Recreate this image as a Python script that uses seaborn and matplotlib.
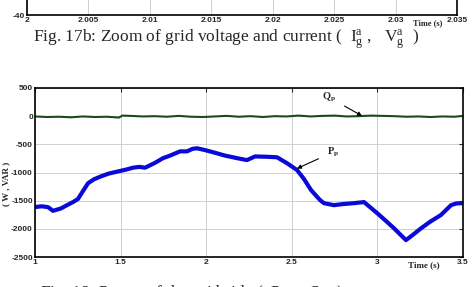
import matplotlib
matplotlib.use("Agg")
import matplotlib.pyplot as plt
import seaborn as sns
import pandas as pd

# ---- data ----
t_p = [1.0, 1.04, 1.076, 1.105, 1.15, 1.187, 1.222, 1.251, 1.28, 1.31, 1.345, 1.38,
       1.43, 1.479, 1.53, 1.572, 1.61, 1.643, 1.70, 1.748, 1.789, 1.847, 1.888, 1.92,
       1.946, 1.99, 2.04, 2.11, 2.18, 2.238, 2.285, 2.35, 2.414, 2.472, 2.53, 2.57,
       2.612, 2.665, 2.688, 2.746, 2.80, 2.86, 2.922, 2.998, 3.05, 3.097, 3.14, 3.167,
       3.21, 3.255, 3.31, 3.371, 3.43, 3.46, 3.494]
p_vals = [-1613, -1600, -1615, -1680, -1640, -1580, -1525, -1470, -1330, -1190, -1120, -1075,
          -1020, -985, -950, -915, -900, -915, -830, -745, -700, -625, -625, -580,
          -570, -600, -640, -700, -745, -780, -715, -720, -730, -835, -955, -1110,
          -1310, -1490, -1545, -1580, -1560, -1545, -1525, -1720, -1860, -1990, -2120, -2200,
          -2100, -1990, -1870, -1755, -1580, -1550, -1545]

t_q = [1.0, 1.07, 1.14, 1.21, 1.28, 1.35, 1.42, 1.49, 1.51, 1.56, 1.63, 1.70, 1.77, 1.84,
       1.91, 1.98, 2.05, 2.12, 2.19, 2.26, 2.33, 2.40, 2.47, 2.54, 2.61, 2.68, 2.75, 2.82,
       2.89, 2.96, 3.03, 3.10, 3.17, 3.24, 3.31, 3.38, 3.45, 3.5]
q_vals = [-5, -15, -10, -20, -5, -15, -10, -25, 10, 5, -5, 0, -10, 5, -10, -15, -5, 5,
          -10, 0, -15, 0, -5, 10, -5, 5, 10, -5, 0, 10, 5, 0, -10, -5, -15, -5, -10, 5]

y_ticks = [500, 0, -500, -1000, -1500, -2000, -2500]
x_ticks = [1, 1.5, 2, 2.5, 3, 3.5]
top_x_ticks = [2, 2.005, 2.01, 2.015, 2.02, 2.025, 2.03, 2.035]
top_x_labels = ["2", "2.005", "2.01", "2.015", "2.02", "2.025", "2.03", "2.035"]

sns.set_style("white")
plt.rcParams['mathtext.fontset'] = 'custom'
plt.rcParams['mathtext.rm'] = 'Liberation Serif'
plt.rcParams['mathtext.it'] = 'Liberation Serif'
plt.rcParams['mathtext.bf'] = 'Liberation Serif:bold'

fig = plt.figure(figsize=(4.74, 2.87), dpi=100)
fig.patch.set_facecolor("white")

tick_font = dict(family="Liberation Sans", weight="bold", size=6)

# ---- remnant of previous figure at the top ----
ax0 = fig.add_axes([27/474, 1 - 15/287, 430/474, 0.3])
ax0.set_xlim(2, 2.035)
ax0.set_ylim(-40, 40)
ax0.set_xticks(top_x_ticks)
ax0.set_xticklabels(top_x_labels, **tick_font)
ax0.set_yticks([-40])
ax0.set_yticklabels(["-40"], **tick_font)
ax0.tick_params(direction="in", length=3, width=0.8, pad=1.5)
ax0.grid(axis="x", color="#c8c8c8", lw=0.6)
for s in ax0.spines.values():
    s.set_linewidth(1.2)
    s.set_color("black")
fig.text(428/474, 1 - 23/287, "Time (s)", family="Liberation Serif", weight="bold",
         size=6, ha="center", va="center")

# ---- captions ----
fig.text(33/474, 1 - 39/287,
         r"Fig. 17b: Zoom of grid voltage and current (  $\mathrm{I}_\mathrm{g}^\mathrm{a}$ ,   $\mathrm{V}_\mathrm{g}^\mathrm{a}$  )",
         family="Liberation Serif", size=12.5, ha="left", va="center")
fig.text(40/474, 1 - 283/287,
         r"Fig. 18: Power of the grid side (  $\mathrm{P}_\mathrm{g}$ ,   $\mathrm{Q}_\mathrm{g}$  )",
         family="Liberation Serif", size=12.5, ha="left", va="top")

# ---- main axes ----
ax = fig.add_axes([35/474, 1 - 257/287, 428/474, 169/287])
dfp = pd.DataFrame({"t": t_p, "v": p_vals})
dfq = pd.DataFrame({"t": t_q, "v": q_vals})
sns.lineplot(data=dfq, x="t", y="v", ax=ax, color="#1d4a1d", lw=1.5)
sns.lineplot(data=dfp, x="t", y="v", ax=ax, color="#0a0ad8", lw=3.0)
ax.set_xlim(1, 3.5)
ax.set_ylim(-2500, 500)
ax.set_xticks(x_ticks)
ax.set_xticklabels(["1", "1.5", "2", "2.5", "3", "3.5"], **tick_font)
ax.set_yticks(y_ticks)
ax.set_yticklabels([str(v) for v in y_ticks], **tick_font)
ax.tick_params(direction="in", length=3, width=0.8, pad=1.5, top=True, right=True)
ax.grid(True, color="#d0d0d0", lw=0.7)
ax.set_axisbelow(True)
for s in ax.spines.values():
    s.set_linewidth(1.2)
    s.set_color("black")
ax.set_xlabel("")
ax.set_ylabel("( W , VAR )", family="Liberation Serif", weight="bold", size=6.5)
ax.yaxis.set_label_coords(-0.058, 0.43)

fig.text(424/474, 1 - 265/287, "Time (s)", family="Liberation Serif", weight="bold",
         size=6.5, ha="center", va="center")

ax.annotate(r"$\mathbf{Q_p}$", xy=(2.91, 5), xytext=(2.72, 330),
            fontsize=7.5, ha="center", va="center",
            arrowprops=dict(arrowstyle="-|>", color="black", lw=0.8, mutation_scale=6,
                            shrinkA=4, shrinkB=0))
ax.annotate(r"$\mathbf{P_p}$", xy=(2.53, -930), xytext=(2.74, -640),
            fontsize=7.5, ha="center", va="center",
            arrowprops=dict(arrowstyle="-|>", color="black", lw=0.8, mutation_scale=6,
                            shrinkA=4, shrinkB=0))

fig.savefig("out.png", dpi=100, facecolor="white")
